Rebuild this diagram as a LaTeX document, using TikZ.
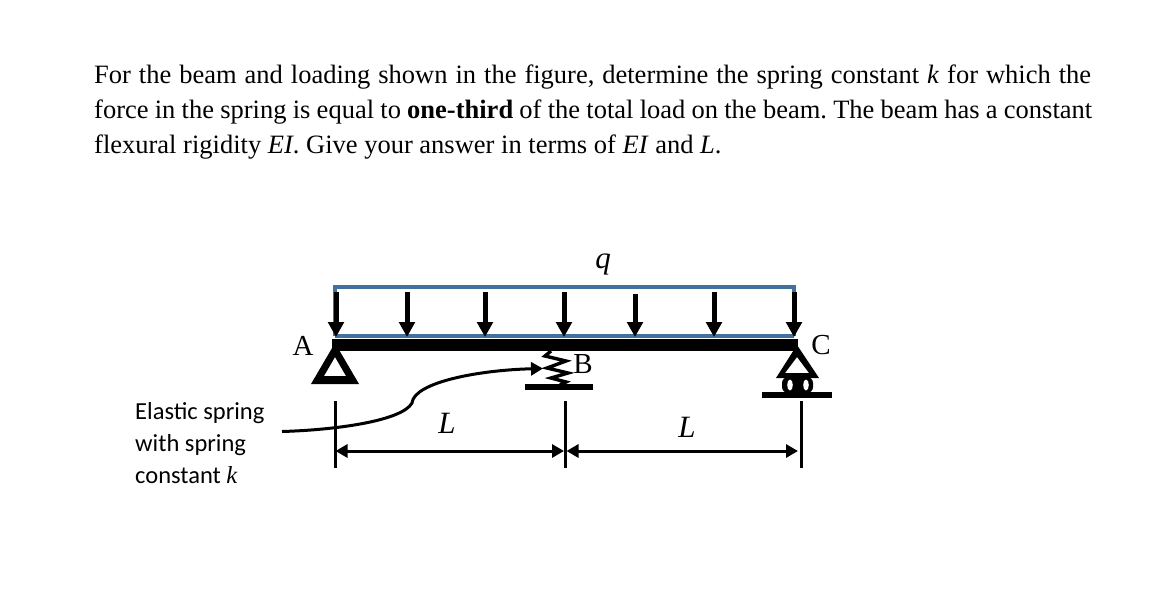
\documentclass[tikz,border=0pt]{standalone}
\usepackage{fontspec}
\setmainfont{Liberation Serif}
\newfontfamily\calibrifont{Carlito}
\usetikzlibrary{arrows.meta}
\definecolor{loadblue}{HTML}{41719C}
\frenchspacing
\tikzset{
 textline/.style={anchor=base west,inner sep=0pt,font=\fontsize{26.5}{30}\selectfont},
 noteline/.style={anchor=base west,inner sep=0pt,font=\calibrifont\fontsize{24.5}{28}\selectfont},
 pointlabel/.style={inner sep=0pt,font=\fontsize{29}{32}\selectfont},
 dimlabel/.style={inner sep=0pt,font=\fontsize{31}{32}\selectfont\itshape},
 loadline/.style={draw=loadblue,line width=3.2pt},
 loadarrow/.style={line width=5pt,-{Triangle[length=15pt,width=15.5pt]}},
 dimline/.style={line width=3pt},
 dimarrow/.style={line width=3pt,{Triangle[length=12pt,width=13pt]}-{Triangle[length=12pt,width=13pt]}},
 blackbar/.style={fill=black,draw=none},
}
\begin{document}
\begin{tikzpicture}[x=1pt,y=-1pt]
\useasboundingbox (0,0) rectangle (1172,606);
\fill[white] (0,0) rectangle (1172,606);
% question text
\node[textline] (t1) at (94,83) {\hbox to 997pt{For the beam and loading shown in the figure, determine the spring constant \textit{k} for which the}};
\node[textline] (t2) at (94,118) {\hbox to 998pt{force in the spring is equal to \textbf{one-third} of the total load on the beam. The beam has a constant}};
\node[textline] (t3) at (94,153) {flexural rigidity \textit{EI}. Give your answer in terms of \textit{EI} and \textit{L}.};
% load
\coordinate (la) at (335,336);
\coordinate (lb) at (335,287);
\coordinate (lc) at (794,287);
\coordinate (ld) at (794,336);
\draw[loadline] (la) -- (lb) -- (lc) -- (ld);
\draw[loadline] (la) -- (ld);
% beam
\fill[blackbar] (332,339) rectangle (798,351);
% load arrows
\foreach \n/\px/\py in {a/336/292,b/407/292,c/485/292,d/564/292,e/635/294,f/714/292,g/794/292}{
  \coordinate (s\n) at (\px,\py);
  \coordinate (e\n) at (\px,337);
  \draw[loadarrow] (s\n) -- (e\n);
}
\node[dimlabel] (q) at (603,264) {q};
% support A
\fill[black,even odd rule] (335,343) -- (311,384) -- (359,384) -- cycle (335,357) -- (324,376) -- (346,376) -- cycle;
\node[pointlabel] (A) at (303,346) {A};
% spring
\coordinate (s0) at (551,351);
\coordinate (s1) at (545,356);
\coordinate (s2) at (566,361);
\coordinate (s3) at (547,368);
\coordinate (s4) at (568,373);
\coordinate (s5) at (551,378);
\coordinate (s6) at (566,382);
\coordinate (s7) at (560,385);
\draw[line width=3.4pt,line join=miter] (s0) -- (s1) -- (s2) -- (s3) -- (s4) -- (s5) -- (s6) -- (s7);
\fill[blackbar] (525,384) rectangle (593,390);
\node[pointlabel] (B) at (583,364) {B};
% support C
\fill[black,even odd rule] (797,345) -- (776,378) -- (819,378) -- cycle (797,357) -- (785,373) -- (809,373) -- cycle;
\fill[black,rounded corners=6pt] (782,377) rectangle (813,393);
\fill[white] (790,385) ellipse (2.8pt and 5.5pt);
\fill[white] (806,385) ellipse (2.8pt and 5.5pt);
\fill[blackbar] (762,392) rectangle (832,398);
\node[pointlabel] (C) at (821,345) {C};
% dimensions
\coordinate (d1t) at (335,401); \coordinate (d1b) at (335,468);
\coordinate (d2t) at (565,401); \coordinate (d2b) at (565,468);
\coordinate (d3t) at (801,401); \coordinate (d3b) at (801,468);
\draw[dimline] (d1t) -- (d1b);
\draw[dimline] (d2t) -- (d2b);
\draw[dimline] (d3t) -- (d3b);
\coordinate (h1) at (335.5,451); \coordinate (h2) at (564,451);
\coordinate (h3) at (566.5,451); \coordinate (h4) at (798,451);
\draw[dimarrow] (h1) -- (h2);
\draw[dimarrow] (h3) -- (h4);
\node[dimlabel] (L1) at (447,423) {L};
\node[dimlabel] (L2) at (687,427) {L};
% note
\node[noteline] (n1) at (135,419) {Elastic spring};
\node[noteline] (n2) at (135,451) {with spring};
\node[noteline] (n3) at (135,483) {constant {\rmfamily\itshape k}};
\coordinate (w0) at (282,431.5);
\coordinate (w1) at (412,403);
\coordinate (w2) at (543,368.5);
\draw[line width=3pt,-{Triangle[length=12pt,width=13pt]}] (w0) .. controls (335,430) and (402,421) .. (w1) .. controls (414,382) and (480,370) .. (w2);
\end{tikzpicture}
\end{document}
